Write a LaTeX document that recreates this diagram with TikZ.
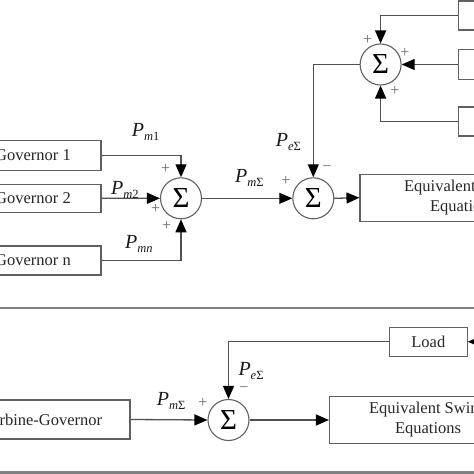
\documentclass[tikz,border=0pt]{standalone}
\usepackage{fontspec}
\setmainfont{Liberation Serif}
\usetikzlibrary{arrows.meta,calc}
\definecolor{boxc}{HTML}{606060}
\definecolor{linec}{HTML}{505050}
\newcommand\plab[1]{{\fontsize{20}{20}\selectfont\itshape P}\raisebox{-4pt}{\fontsize{12.5}{12.5}\selectfont #1}}
\begin{document}
\begin{tikzpicture}[x=1pt,y=-1pt,
  box/.style={draw=boxc, line width=1.1pt, inner sep=0pt, font=\fontsize{16.5}{20}\selectfont, align=center, text=black!85},
  sumc/.style={circle, draw=boxc, line width=1.1pt, minimum size=41pt, inner sep=0pt, font=\fontsize{29}{29}\selectfont},
  conn/.style={draw=linec, line width=1.3pt},
  arr/.style={conn, -{Triangle[length=13pt,width=11pt,color=black]}},
  sgn/.style={font=\fontsize{16}{16}\selectfont, text=black!60, inner sep=0pt},
  lbl/.style={anchor=base west, inner sep=0pt, text=black!90},
  sepline/.style={draw=black!50, line width=2.5pt}]
\useasboundingbox (0,0) rectangle (474,474);
\clip (0,0) rectangle (474,474);
% ---------- upper part ----------
\node[box, minimum width=136pt, minimum height=29.3pt] (gov1) at (33,155.4) {Governor 1};
\node[box, minimum width=136pt, minimum height=28.3pt] (gov2) at (33,198.2) {Governor 2};
\node[box, minimum width=136pt, minimum height=29pt] (govn) at (33,260.5) {Governor n};
\node[sumc] (s1) at (181,198.3) {Σ};
\node[sumc] (s2) at (313.3,198.3) {Σ};
\node[box, minimum width=206pt, minimum height=46.7pt] (eq1) at (463,197.7) {Equivalent Swing\\Equations};
\node[sumc] (s3) at (380.6,64.5) {Σ};
\node[box, minimum width=80pt, minimum height=29pt] (b1) at (498.5,15.5) {};
\node[box, minimum width=80pt, minimum height=30pt] (b2) at (498.5,64.5) {};
\node[box, minimum width=80pt, minimum height=29pt] (b3) at (498.5,121.5) {};
\draw[arr] (b1.west) -| (s3.north);
\draw[arr] (b2.west) -- (s3.east);
\draw[arr] (b3.west) -| (s3.south);
\draw[arr] (s3.west) -| (s2.north);
\draw[arr] (gov1.east) -| (s1.north);
\draw[arr] (gov2.east) -- (s1.west);
\draw[arr] (govn.east) -| (s1.south);
\draw[arr] (s1.east) -- (s2.west);
\draw[arr] (s2.east) -- (eq1.west);
\node[lbl] (lm1) at (131.7,136.7) {\plab{{\itshape m}1}};
\node[lbl] (lm2) at (111,194) {\plab{{\itshape m}2}};
\node[lbl] (lmn) at (125,248.3) {\plab{{\itshape mn}}};
\node[lbl] (lms1) at (235,182.7) {\plab{{\itshape m}Σ}};
\node[lbl] (les1) at (275.7,146) {\plab{{\itshape e}Σ}};
\node[sgn] (p1) at (165.7,169) {+};
\node[sgn] (p2) at (155.7,209.3) {+};
\node[sgn] (p3) at (166.7,226) {+};
\node[sgn] (p4) at (286,181) {+};
\node[sgn] (m1) at (327,168.5) {−};
\node[sgn] (p5) at (367.7,40) {+};
\node[sgn] (p6) at (405,52.7) {+};
\node[sgn] (p7) at (395,90.7) {+};
% ---------- separators ----------
\coordinate (sa) at (-5,308.2);
\coordinate (sb) at (480,308.2);
\coordinate (sc) at (-5,472.5);
\coordinate (sd) at (480,472.5);
\draw[sepline] (sa) -- (sb);
\draw[sepline] (sc) -- (sd);
% ---------- lower part ----------
\node[box, minimum width=176pt, minimum height=39pt] (tg) at (42,419.5) {Turbine-Governor};
\node[sumc] (s4) at (228.5,420) {Σ};
\node[box, minimum width=197pt, minimum height=46.6pt] (eq2) at (428,420) {Equivalent Swing\\Equations};
\node[box, minimum width=78pt, minimum height=28.7pt] (load) at (428.3,341.7) {Load};
\coordinate (lin) at (490,341.7);
\draw[arr] (lin) -- (load.east);
\draw[arr] (load.west) -| (s4.north);
\draw[arr] (tg.east) -- (s4.west);
\draw[arr] (s4.east) -- (eq2.west);
\node[lbl] (lms2) at (156.7,405) {\plab{{\itshape m}Σ}};
\node[lbl] (les2) at (238.3,375.5) {\plab{{\itshape e}Σ}};
\node[sgn] (p8) at (203,403) {+};
\node[sgn] (m2) at (244,389.5) {−};
\end{tikzpicture}
\end{document}
